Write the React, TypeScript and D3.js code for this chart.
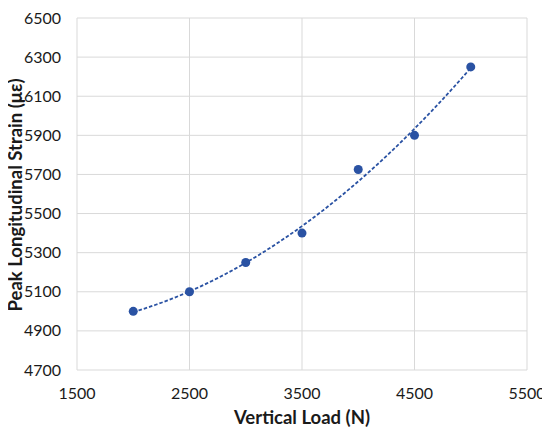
// @ts-nocheck
import React, { useEffect, useRef } from "react";
import * as d3 from "d3";

const loads = [2000, 2500, 3000, 3500, 4000, 4500, 5000];
const strains = [5000, 5100, 5250, 5400, 5725, 5900, 6250];
const xTicks = [1500, 2500, 3500, 4500, 5500];
const yTicks = [4700, 4900, 5100, 5300, 5500, 5700, 5900, 6100, 6300, 6500];

// least-squares quadratic trendline through the points (like Excel's poly trendline)
function quadFit(xs, ys) {
  const mx = d3.mean(xs);
  const u = xs.map(x => (x - mx) / 1000);
  let s = [0, 0, 0, 0, 0], t = [0, 0, 0];
  u.forEach((x, i) => {
    for (let k = 0; k < 5; k++) s[k] += x ** k;
    for (let k = 0; k < 3; k++) t[k] += ys[i] * x ** k;
  });
  const A = [
    [s[0], s[1], s[2], t[0]],
    [s[1], s[2], s[3], t[1]],
    [s[2], s[3], s[4], t[2]],
  ];
  for (let c = 0; c < 3; c++) {
    for (let r = c + 1; r < 3; r++) {
      const f = A[r][c] / A[c][c];
      for (let k = c; k < 4; k++) A[r][k] -= f * A[c][k];
    }
  }
  const b = [0, 0, 0];
  for (let r = 2; r >= 0; r--) {
    let v = A[r][3];
    for (let k = r + 1; k < 3; k++) v -= A[r][k] * b[k];
    b[r] = v / A[r][r];
  }
  return x => {
    const z = (x - mx) / 1000;
    return b[0] + b[1] * z + b[2] * z * z;
  };
}

export default function App() {
  const ref = useRef(null);

  useEffect(() => {
    const svg = d3.select(ref.current);
    svg.selectAll("*").remove();
    const width = 550, height = 435;
    const m = { top: 18, right: 23, bottom: 65, left: 77 };

    const x = d3.scaleLinear().domain([1500, 5500]).range([m.left, width - m.right]);
    const y = d3.scaleLinear().domain([4700, 6500]).range([height - m.bottom, m.top]);
    const font = "Lato, 'Open Sans', sans-serif";

    // gridlines
    svg.append("g")
      .selectAll("line")
      .data(yTicks)
      .join("line")
      .attr("x1", m.left).attr("x2", width - m.right)
      .attr("y1", d => y(d)).attr("y2", d => y(d))
      .attr("stroke", "#d9d9d9").attr("stroke-width", 1);

    svg.append("g")
      .selectAll("line")
      .data(xTicks)
      .join("line")
      .attr("x1", d => x(d)).attr("x2", d => x(d))
      .attr("y1", m.top).attr("y2", height - m.bottom)
      .attr("stroke", "#d9d9d9").attr("stroke-width", 1);

    // tick labels
    svg.append("g")
      .selectAll("text")
      .data(yTicks)
      .join("text")
      .attr("x", m.left - 16)
      .attr("y", d => y(d))
      .attr("dy", "0.35em")
      .attr("text-anchor", "end")
      .attr("font-family", font)
      .attr("font-size", 16)
      .attr("fill", "#1a1a1a")
      .text(d => d);

    svg.append("g")
      .selectAll("text")
      .data(xTicks)
      .join("text")
      .attr("x", d => x(d))
      .attr("y", height - m.bottom + 29)
      .attr("text-anchor", "middle")
      .attr("font-family", font)
      .attr("font-size", 16)
      .attr("fill", "#1a1a1a")
      .text(d => d);

    // axis titles
    svg.append("text")
      .attr("x", (m.left + width - m.right) / 2)
      .attr("y", 424)
      .attr("text-anchor", "middle")
      .attr("font-family", font)
      .attr("font-weight", "bold")
      .attr("font-size", 18.5)
      .attr("fill", "#1a1a1a")
      .text("Vertical Load (N)");

    svg.append("text")
      .attr("transform", `translate(22, ${(m.top + height - m.bottom) / 2 + 1}) rotate(-90)`)
      .attr("text-anchor", "middle")
      .attr("font-family", font)
      .attr("font-weight", "bold")
      .attr("font-size", 18.5)
      .attr("fill", "#1a1a1a")
      .text("Peak Longitudinal Strain (\u03bc\u03b5)");

    // trendline
    const fit = quadFit(loads, strains);
    const xs = d3.range(loads[0], loads[loads.length - 1] + 1, 50);
    const line = d3.line().x(d => x(d)).y(d => y(fit(d)));
    svg.append("path")
      .datum(xs)
      .attr("d", line)
      .attr("fill", "none")
      .attr("stroke", "#2a52a3")
      .attr("stroke-width", 1.8)
      .attr("stroke-dasharray", "3.5 2");

    // points
    svg.append("g")
      .selectAll("circle")
      .data(loads)
      .join("circle")
      .attr("cx", d => x(d))
      .attr("cy", (d, i) => y(strains[i]))
      .attr("r", 4.5)
      .attr("fill", "#2a52a3");
  }, []);

  return (
    <div style={{ margin: -8 }}>
      <svg ref={ref} width={550} height={435} style={{ display: "block", background: "#fff" }} />
    </div>
  );
}
